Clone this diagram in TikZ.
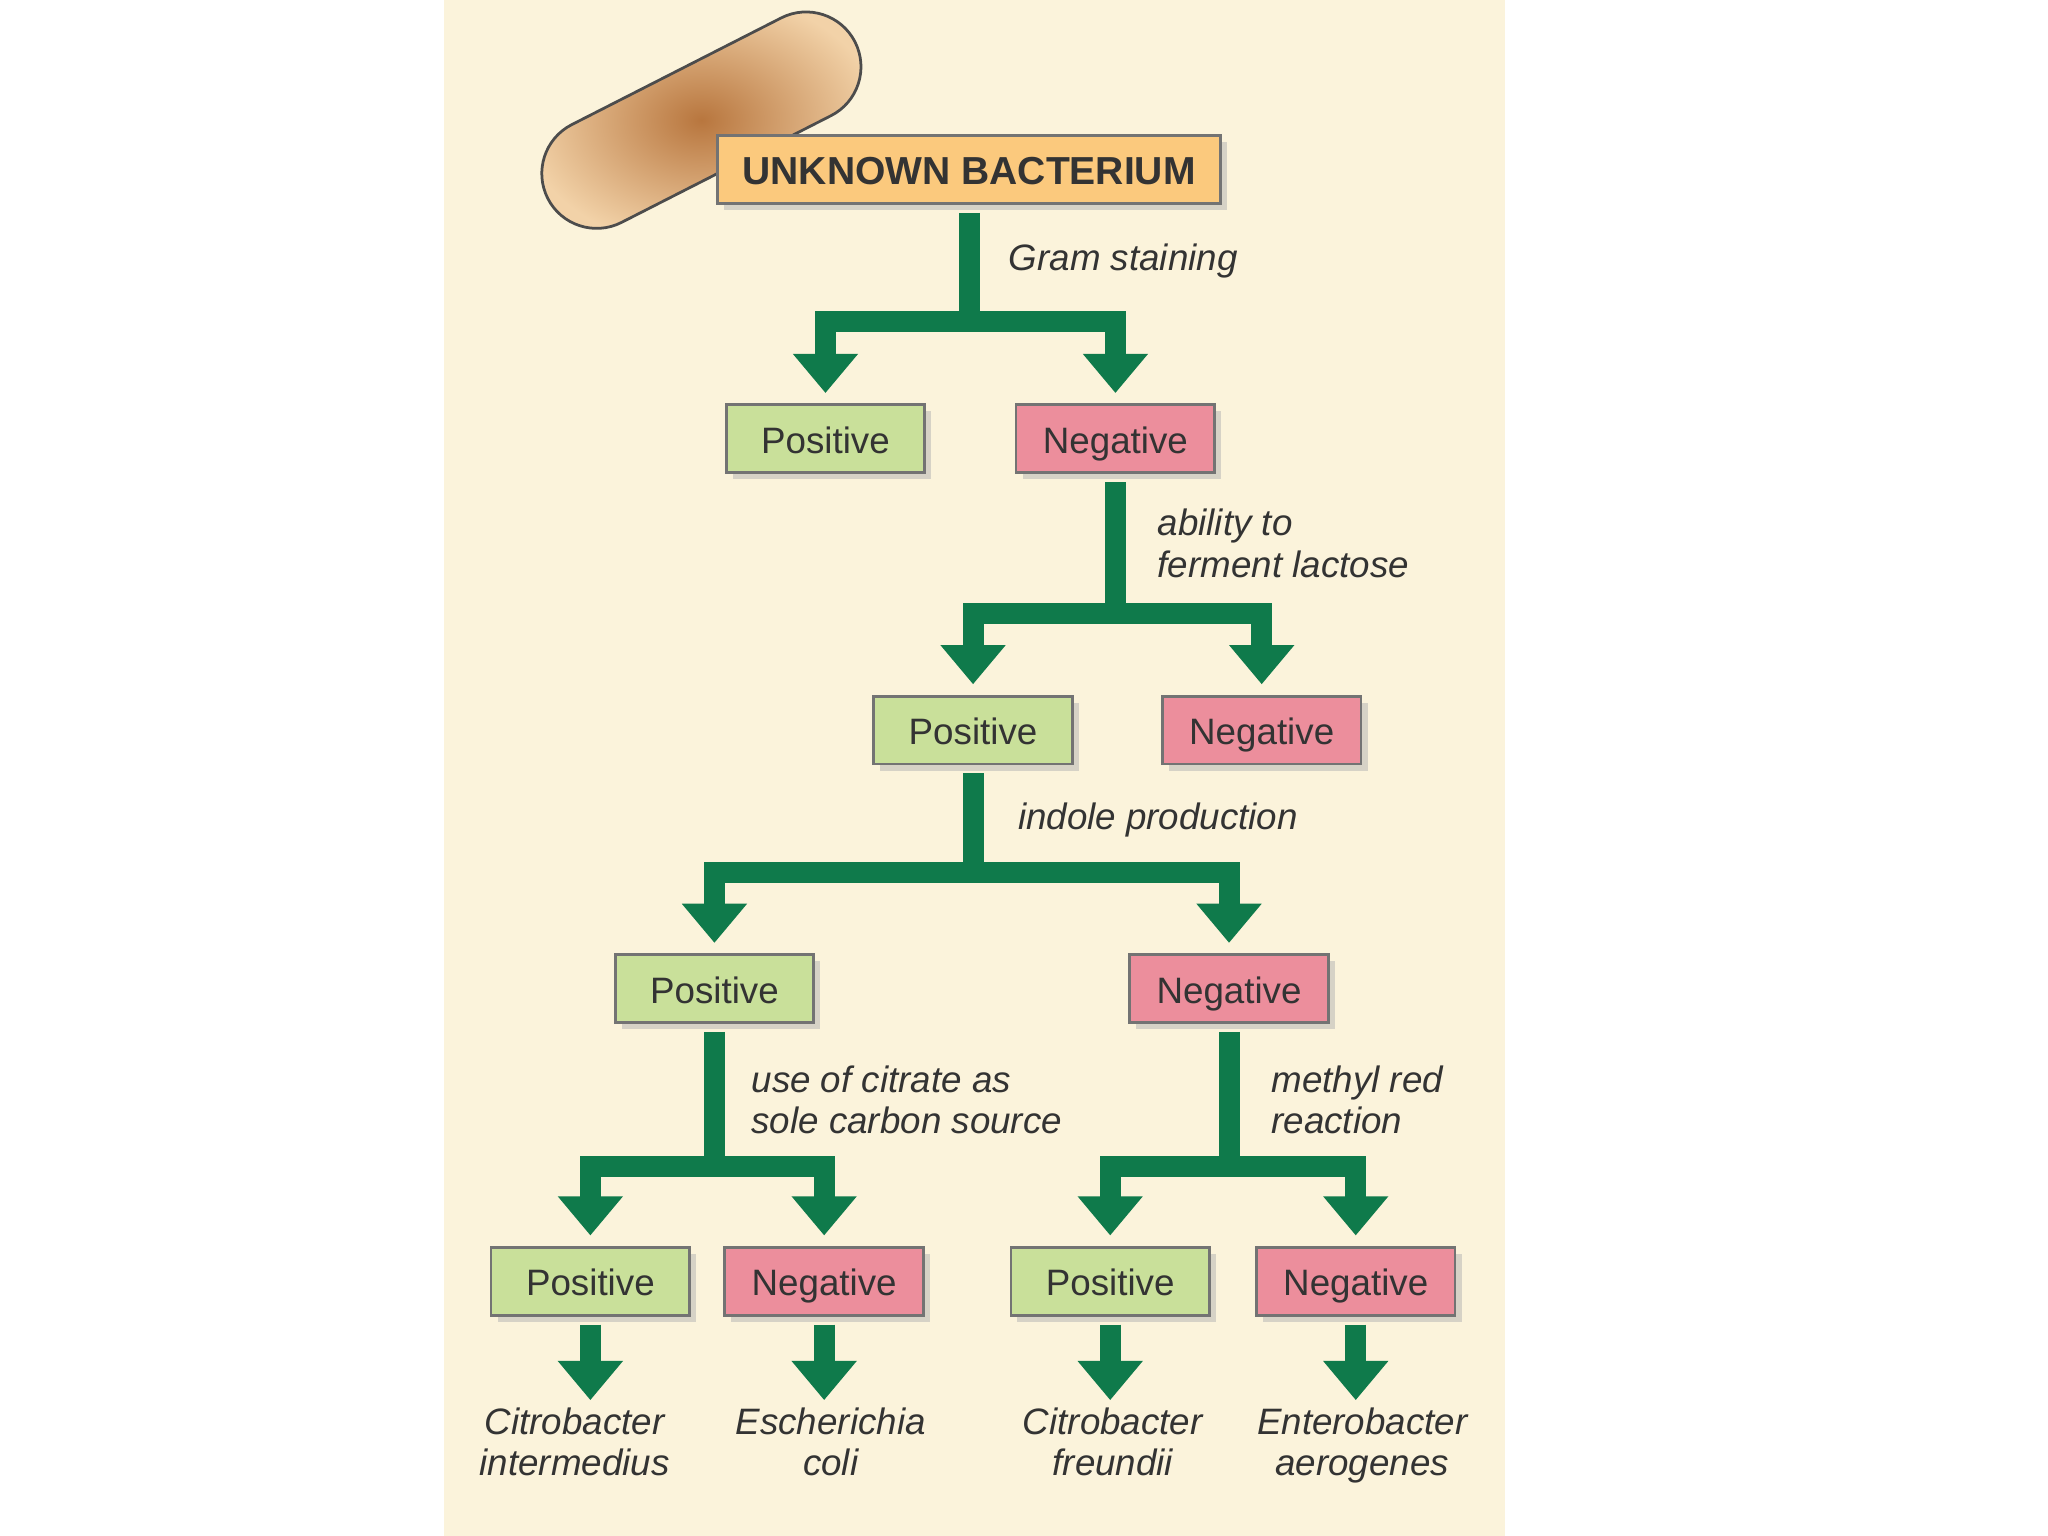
\documentclass[tikz,border=0pt]{standalone}
\usepackage{fontspec}
\setmainfont{Liberation Sans}
\usetikzlibrary{arrows.meta,shadows}
\definecolor{cream}{HTML}{FBF3DB}
\definecolor{flowgreen}{HTML}{0F7A4B}
\definecolor{posgreen}{HTML}{C9E09A}
\definecolor{negred}{HTML}{EC8E9C}
\definecolor{headorange}{HTML}{FBC97D}
\definecolor{cellbrown}{HTML}{B8763E}
\definecolor{cellpale}{HTML}{F2D2A8}
\tikzset{
  box/.style={draw=black!55, line width=0.6pt, minimum width=1.52cm, minimum height=0.52cm,
    text height=1.6ex, text depth=0.4ex, inner ysep=0pt,
    font=\fontsize{8}{10}\selectfont, text=black!80, drop shadow={shadow xshift=0.05cm, shadow yshift=-0.05cm, fill=black!30}},
  posbox/.style={box, fill=posgreen},
  negbox/.style={box, fill=negred},
  flow/.style={draw=flowgreen, line width=0.16cm, line join=miter,
    -{Triangle[width=0.48cm,length=0.3cm]}, shorten >=0.08cm},
  trunk/.style={draw=flowgreen, line width=0.16cm},
  test/.style={font=\itshape\fontsize{8}{9}\selectfont, text=black!80, align=left, anchor=west},
  species/.style={font=\itshape\fontsize{8}{9}\selectfont, text=black!80, align=center,
    anchor=north, text height=1.6ex, inner ysep=1pt}
}
\begin{document}
\begin{tikzpicture}[x=0.01cm,y=-0.01cm]
  % background
  \useasboundingbox (0,0) rectangle (1568,1176);
  \fill[white] (0,0) rectangle (1568,1176);
  \fill[cream] (340,0) rectangle (1152,1176);
  % bacterium
  \begin{scope}[shift={(537,92)}, rotate=27]
    \shade[inner color=cellbrown, outer color=cellpale, draw=black!70, line width=0.6pt,
      rounded corners=0.42cm] (-132,-42) rectangle (132,42);
  \end{scope}
  % boxes
  \node[box, fill=headorange, minimum width=3.85cm, font=\bfseries\fontsize{8.5}{10}\selectfont] (root) at (742,130) {UNKNOWN BACTERIUM};
  \node[posbox] (p1) at (632,336) {Positive};
  \node[negbox] (n1) at (854,336) {Negative};
  \node[posbox] (p2) at (745,559) {Positive};
  \node[negbox] (n2) at (966,559) {Negative};
  \node[posbox] (p3) at (547,757) {Positive};
  \node[negbox] (n3) at (941,757) {Negative};
  \node[posbox] (p4) at (452,981) {Positive};
  \node[negbox] (n4) at (631,981) {Negative};
  \node[posbox] (p5) at (850,981) {Positive};
  \node[negbox] (n5) at (1038,981) {Negative};
  % branch points
  \coordinate (b1) at (742,246);
  \coordinate (b2) at (854,470);
  \coordinate (b3) at (745,668);
  \coordinate (b4) at (547,893);
  \coordinate (b5) at (941,893);
  \coordinate (tips) at (0,1080);
  % flow arrows
  \foreach \up/\brk/\lft/\rgt in {root/b1/p1/n1, n1/b2/p2/n2, p2/b3/p3/n3, p3/b4/p4/n4, n3/b5/p5/n5} {
    \draw[trunk] ([yshift=-0.06cm]\up.south) -- (\brk);
    \draw[flow] (\brk) -| (\lft.north);
    \draw[flow] (\brk) -| (\rgt.north);
  }
  % species
  \node[species] (s1) at (440,1096) {Citrobacter\\intermedius};
  \node[species] (s2) at (636,1096) {Escherichia\\coli};
  \node[species] (s3) at (852,1096) {Citrobacter\\freundii};
  \node[species] (s4) at (1043,1096) {Enterobacter\\aerogenes};
  \foreach \res in {p4, n4, p5, n5}
    \draw[flow] ([yshift=-0.06cm]\res.south) -- (\res.south |- tips);
  % test labels
  \node[test] at (760,200) {Gram staining};
  \node[test] at (874,416) {ability to\\ferment lactose};
  \node[test] at (767,628) {indole production};
  \node[test] at (563,842) {use of citrate as\\sole carbon source};
  \node[test] at (961,842) {methyl red\\reaction};
\end{tikzpicture}
\end{document}
